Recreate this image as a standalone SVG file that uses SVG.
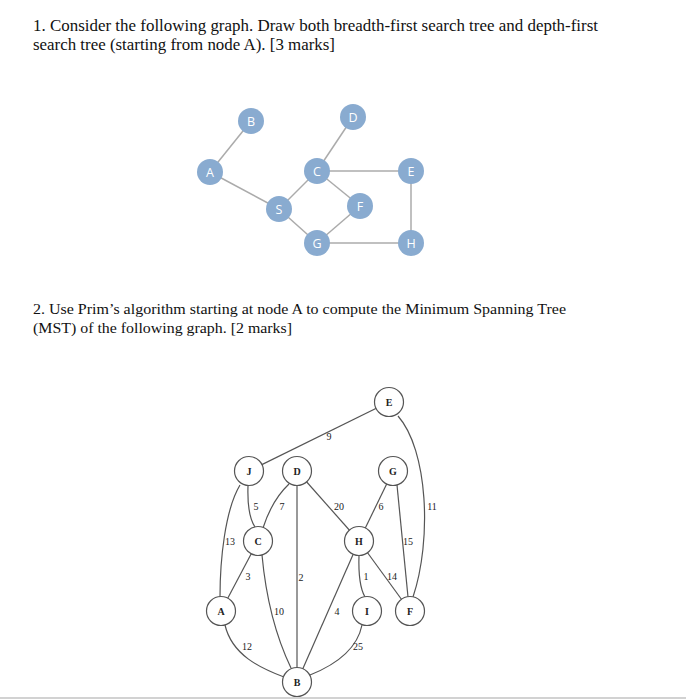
<svg xmlns="http://www.w3.org/2000/svg" width="690" height="700" viewBox="0 0 690 700">
<style>
.q1{font-family:"Liberation Serif","DejaVu Serif",serif;font-size:16.5px;fill:#111}
.q2{font-family:"Liberation Serif","DejaVu Serif",serif;font-size:15.5px;fill:#111}
.bn circle{fill:#89abd0}
.bn text{font-family:"Open Sans","DejaVu Sans",sans-serif;font-size:12.5px;fill:#fff;text-anchor:middle;dominant-baseline:central}
.be{stroke:#ababab;stroke-width:1.5;fill:none}
.wn circle{fill:#fff;stroke:#555;stroke-width:1.2}
.wn text{font-family:"Liberation Serif","DejaVu Serif",serif;font-size:10px;font-weight:bold;fill:#222;text-anchor:middle;dominant-baseline:central}
.we{stroke:#555;stroke-width:1.2;fill:none}
.wl{font-family:"Liberation Serif","DejaVu Serif",serif;font-size:10px;fill:#222;text-anchor:middle;dominant-baseline:central}
</style>
<rect x="0" y="0" width="690" height="700" fill="#fff"/>
<rect x="0" y="697" width="686" height="2" fill="#d2d2d2"/>
<text class="q1" x="33" y="31" textLength="565" lengthAdjust="spacingAndGlyphs">1. Consider the following graph. Draw both breadth-first search tree and depth-first</text>
<text class="q1" x="33" y="50" textLength="302" lengthAdjust="spacingAndGlyphs">search tree (starting from node A). [3 marks]</text>
<text class="q2" x="33" y="314" textLength="533" lengthAdjust="spacingAndGlyphs">2. Use Prim’s algorithm starting at node A to compute the Minimum Spanning Tree</text>
<text class="q2" x="33" y="333" textLength="259" lengthAdjust="spacingAndGlyphs">(MST) of the following graph. [2 marks]</text>

<g id="connectors1">
<line class="be" x1="210" y1="172" x2="251" y2="121"/>
<line class="be" x1="210" y1="172" x2="279" y2="209"/>
<line class="be" x1="279" y1="209" x2="317" y2="171"/>
<line class="be" x1="279" y1="209" x2="317" y2="243"/>
<line class="be" x1="317" y1="171" x2="353" y2="117"/>
<line class="be" x1="317" y1="171" x2="411" y2="171"/>
<line class="be" x1="317" y1="171" x2="360" y2="206"/>
<line class="be" x1="360" y1="206" x2="317" y2="243"/>
<line class="be" x1="317" y1="243" x2="411" y2="243"/>
<line class="be" x1="411" y1="171" x2="411" y2="243"/>
</g>
<g id="nA1" class="bn"><circle cx="210" cy="172" r="13"/><text x="210" y="172">A</text></g>
<g id="nB1" class="bn"><circle cx="251" cy="121" r="13"/><text x="251" y="121">B</text></g>
<g id="nD1" class="bn"><circle cx="353" cy="117" r="13"/><text x="353" y="117">D</text></g>
<g id="nC1" class="bn"><circle cx="317" cy="171" r="13"/><text x="317" y="171">C</text></g>
<g id="nE1" class="bn"><circle cx="411" cy="171" r="13"/><text x="411" y="171">E</text></g>
<g id="nS1" class="bn"><circle cx="279" cy="209" r="13"/><text x="279" y="209">S</text></g>
<g id="nF1" class="bn"><circle cx="360" cy="206" r="13"/><text x="360" y="206">F</text></g>
<g id="nG1" class="bn"><circle cx="317" cy="243" r="13"/><text x="317" y="243">G</text></g>
<g id="nH1" class="bn"><circle cx="411" cy="243" r="13"/><text x="411" y="243">H</text></g>

<g id="connectors2">
<line class="we" x1="389" y1="402" x2="249" y2="471"/>
<path class="we" d="M398,416 C428,450 432,540 413,597"/>
<path class="we" d="M240,485 C225,510 220,560 220,597"/>
<path class="we" d="M248,486 Q247,515 255,527"/>
<path class="we" d="M289,484 Q272,500 263,528"/>
<line class="we" x1="297" y1="471" x2="297" y2="682"/>
<line class="we" x1="297" y1="471" x2="359" y2="541"/>
<line class="we" x1="393" y1="471" x2="359" y2="541"/>
<line class="we" x1="397" y1="485" x2="408" y2="597"/>
<line class="we" x1="258" y1="541" x2="221" y2="611"/>
<path class="we" d="M262,555 Q268,620 291,668"/>
<line class="we" x1="359" y1="541" x2="297" y2="682"/>
<path class="we" d="M359,555 Q358,585 365,597"/>
<line class="we" x1="359" y1="541" x2="410" y2="611"/>
<path class="we" d="M225,625 C232,655 260,668 284,677"/>
<path class="we" d="M362,625 C357,650 335,665 310,675"/>
</g>
<g id="labels2">
<text class="wl" x="329" y="436">9</text>
<text class="wl" x="432" y="506">11</text>
<text class="wl" x="230" y="541">13</text>
<text class="wl" x="256" y="506">5</text>
<text class="wl" x="282" y="506">7</text>
<text class="wl" x="301" y="577">2</text>
<text class="wl" x="339" y="506">20</text>
<text class="wl" x="381" y="506">6</text>
<text class="wl" x="408" y="541">15</text>
<text class="wl" x="248" y="576">3</text>
<text class="wl" x="279" y="611">10</text>
<text class="wl" x="337" y="611">4</text>
<text class="wl" x="366" y="576">1</text>
<text class="wl" x="392" y="576">14</text>
<text class="wl" x="247" y="646">12</text>
<text class="wl" x="358" y="646">25</text>
</g>
<g id="nE" class="wn"><circle cx="389" cy="402" r="14.5"/><text x="389" y="402">E</text></g>
<g id="nJ" class="wn"><circle cx="249" cy="471" r="14.5"/><text x="249" y="471">J</text></g>
<g id="nD" class="wn"><circle cx="297" cy="471" r="14.5"/><text x="297" y="471">D</text></g>
<g id="nG" class="wn"><circle cx="393" cy="471" r="14.5"/><text x="393" y="471">G</text></g>
<g id="nC" class="wn"><circle cx="258" cy="541" r="14.5"/><text x="258" y="541">C</text></g>
<g id="nH" class="wn"><circle cx="359" cy="541" r="14.5"/><text x="359" y="541">H</text></g>
<g id="nA" class="wn"><circle cx="221" cy="611" r="14.5"/><text x="221" y="611">A</text></g>
<g id="nI" class="wn"><circle cx="367" cy="611" r="14.5"/><text x="367" y="611">I</text></g>
<g id="nF" class="wn"><circle cx="410" cy="611" r="14.5"/><text x="410" y="611">F</text></g>
<g id="nB" class="wn"><circle cx="297" cy="682" r="14.5"/><text x="297" y="682">B</text></g>
</svg>
